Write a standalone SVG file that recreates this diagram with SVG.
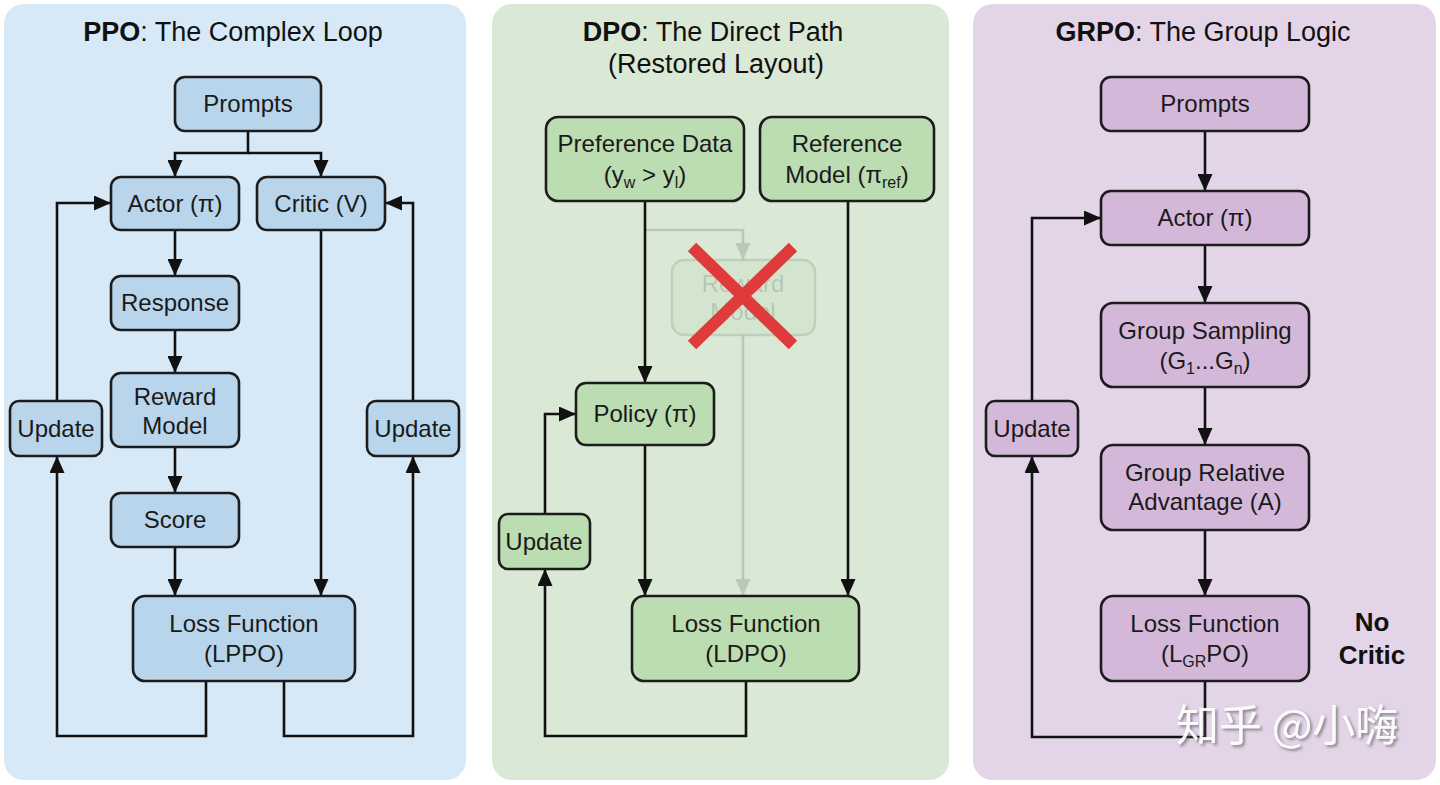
<svg xmlns="http://www.w3.org/2000/svg" width="1440" height="785" viewBox="0 0 1440 785">
<defs>
<style>
.t{font-family:"Liberation Sans",Arial,sans-serif;font-size:24px;fill:#1a1a1a;text-anchor:middle}
.title{font-family:"Liberation Sans",Arial,sans-serif;font-size:27px;fill:#111;text-anchor:middle}
.b{font-weight:bold}
.sub{font-size:16px}
.ppo{fill:#b8d5ec;stroke:#1c1c1c;stroke-width:2.6}
.dpo{fill:#bcdcb1;stroke:#1c1c1c;stroke-width:2.6}
.grpo{fill:#d4b8da;stroke:#1c1c1c;stroke-width:2.6}
.ln{fill:none;stroke:#111;stroke-width:2.6;marker-end:url(#ah)}
.fd{fill:none;stroke:#b9c9b5;stroke-width:2.6;marker-end:url(#ahf)}
.wm{font-family:"Noto Sans CJK SC","Liberation Sans",sans-serif;font-size:43px;fill:#ffffff;fill-opacity:0.92}
</style>
<marker id="ah" markerUnits="userSpaceOnUse" markerWidth="17" markerHeight="15" refX="17" refY="7.5" orient="auto">
<path d="M0,0 L17,7.5 L0,15 z" fill="#111"/>
</marker>
<marker id="ahf" markerUnits="userSpaceOnUse" markerWidth="17" markerHeight="15" refX="17" refY="7.5" orient="auto">
<path d="M0,0 L17,7.5 L0,15 z" fill="#b9c9b5"/>
</marker>
<filter id="sh" x="-10%" y="-20%" width="130%" height="150%">
<feDropShadow dx="2" dy="2" stdDeviation="1.5" flood-color="#555" flood-opacity="0.7"/>
</filter>
</defs>

<g id="panels">
<rect x="4" y="4" width="462" height="776" rx="20" fill="#d7e9f7"/>
<rect x="492" y="4" width="457" height="776" rx="20" fill="#d9e9d5"/>
<rect x="973" y="4" width="463" height="776" rx="20" fill="#e3d4e8"/>
</g>

<g id="titles">
<text class="title" x="233" y="41"><tspan class="b">PPO</tspan>: The Complex Loop</text>
<text class="title" x="713" y="41"><tspan class="b">DPO</tspan>: The Direct Path</text>
<text class="title" x="716" y="73">(Restored Layout)</text>
<text class="title" x="1203" y="41"><tspan class="b">GRPO</tspan>: The Group Logic</text>
</g>

<g id="connectors">
<!-- PPO -->
<path class="ln" d="M248,131 V153 H175 V177"/>
<path class="ln" d="M248,153 H321 V177"/>
<path class="ln" d="M175,230 V276"/>
<path class="ln" d="M175,330 V373"/>
<path class="ln" d="M175,447 V493"/>
<path class="ln" d="M175,547 V596"/>
<path class="ln" d="M321,230 V596"/>
<path class="ln" d="M206,681 V736 H57 V456"/>
<path class="ln" d="M57,401 V203 H111"/>
<path class="ln" d="M284,681 V736 H413 V456"/>
<path class="ln" d="M413,401 V203 H385"/>
<!-- DPO -->
<path class="fd" d="M645,230 H743 V260"/>
<path class="fd" d="M743,335 V596"/>
<path class="ln" d="M645,201 V383"/>
<path class="ln" d="M645,445 V596"/>
<path class="ln" d="M848,201 V596"/>
<path class="ln" d="M746,681 V736 H545 V569"/>
<path class="ln" d="M545,514 V414 H576"/>
<!-- GRPO -->
<path class="ln" d="M1205,131 V191"/>
<path class="ln" d="M1205,245 V303"/>
<path class="ln" d="M1205,387 V445"/>
<path class="ln" d="M1205,530 V596"/>
<path class="ln" d="M1205,681 V737 H1032 V456"/>
<path class="ln" d="M1032,401 V218 H1101"/>
</g>

<!-- PPO nodes -->
<g id="ppo-prompts"><rect class="ppo" x="175" y="77" width="146" height="54" rx="10"/><text class="t" x="248" y="112">Prompts</text></g>
<g id="ppo-actor"><rect class="ppo" x="111" y="177" width="128" height="53" rx="10"/><text class="t" x="175" y="212">Actor (π)</text></g>
<g id="ppo-critic"><rect class="ppo" x="257" y="177" width="128" height="53" rx="10"/><text class="t" x="321" y="212">Critic (V)</text></g>
<g id="ppo-response"><rect class="ppo" x="111" y="276" width="128" height="54" rx="10"/><text class="t" x="175" y="311">Response</text></g>
<g id="ppo-reward"><rect class="ppo" x="111" y="373" width="128" height="74" rx="10"/><text class="t" x="175" y="405">Reward</text><text class="t" x="175" y="434">Model</text></g>
<g id="ppo-score"><rect class="ppo" x="111" y="493" width="128" height="54" rx="10"/><text class="t" x="175" y="528">Score</text></g>
<g id="ppo-loss"><rect class="ppo" x="133" y="596" width="222" height="85" rx="12"/><text class="t" x="244" y="632">Loss Function</text><text class="t" x="244" y="662">(LPPO)</text></g>
<g id="ppo-update-left"><rect class="ppo" x="10" y="401" width="92" height="55" rx="9"/><text class="t" x="56" y="437">Update</text></g>
<g id="ppo-update-right"><rect class="ppo" x="367" y="401" width="92" height="55" rx="9"/><text class="t" x="413" y="437">Update</text></g>

<!-- DPO nodes -->
<g id="dpo-pref"><rect class="dpo" x="546" y="117" width="198" height="84" rx="12"/><text class="t" x="645" y="152">Preference Data</text><text class="t" x="645" y="183">(y<tspan class="sub" dy="5">w</tspan><tspan dy="-5"> &gt; y</tspan><tspan class="sub" dy="5">l</tspan><tspan dy="-5">)</tspan></text></g>
<g id="dpo-ref"><rect class="dpo" x="760" y="117" width="174" height="84" rx="12"/><text class="t" x="847" y="152">Reference</text><text class="t" x="847" y="183">Model (π<tspan class="sub" dy="5">ref</tspan><tspan dy="-5">)</tspan></text></g>
<g id="dpo-reward-removed" opacity="0.55"><rect x="672" y="260" width="143" height="75" rx="12" fill="#cfe0cb" stroke="#a9bba6" stroke-width="2.5"/><text class="t" x="743" y="292" style="fill:#9aab98">Reward</text><text class="t" x="743" y="320" style="fill:#9aab98">Model</text></g>
<g id="dpo-cross"><path d="M692,247 L793,345 M793,247 L692,345" stroke="#e03b3b" stroke-width="12" fill="none"/></g>
<g id="dpo-policy"><rect class="dpo" x="576" y="383" width="138" height="62" rx="10"/><text class="t" x="645" y="422">Policy (π)</text></g>
<g id="dpo-update"><rect class="dpo" x="499" y="514" width="91" height="55" rx="9"/><text class="t" x="544" y="550">Update</text></g>
<g id="dpo-loss"><rect class="dpo" x="632" y="596" width="227" height="85" rx="12"/><text class="t" x="746" y="632">Loss Function</text><text class="t" x="746" y="662">(LDPO)</text></g>

<!-- GRPO nodes -->
<g id="grpo-prompts"><rect class="grpo" x="1101" y="77" width="208" height="54" rx="10"/><text class="t" x="1205" y="112">Prompts</text></g>
<g id="grpo-actor"><rect class="grpo" x="1101" y="191" width="208" height="54" rx="10"/><text class="t" x="1205" y="226">Actor (π)</text></g>
<g id="grpo-sampling"><rect class="grpo" x="1101" y="303" width="208" height="84" rx="12"/><text class="t" x="1205" y="339">Group Sampling</text><text class="t" x="1205" y="369">(G<tspan class="sub" dy="5">1</tspan><tspan dy="-5">...G</tspan><tspan class="sub" dy="5">n</tspan><tspan dy="-5">)</tspan></text></g>
<g id="grpo-advantage"><rect class="grpo" x="1101" y="445" width="208" height="85" rx="12"/><text class="t" x="1205" y="481">Group Relative</text><text class="t" x="1205" y="510">Advantage (A)</text></g>
<g id="grpo-loss"><rect class="grpo" x="1101" y="596" width="208" height="85" rx="12"/><text class="t" x="1205" y="632">Loss Function</text><text class="t" x="1205" y="662">(L<tspan class="sub" dy="5">GR</tspan><tspan dy="-5">PO)</tspan></text></g>
<g id="grpo-update"><rect class="grpo" x="986" y="401" width="92" height="55" rx="9"/><text class="t" x="1032" y="437">Update</text></g>
<g id="grpo-note"><text class="t b" x="1372" y="631" style="font-size:26px;fill:#111">No</text><text class="t b" x="1372" y="664" style="font-size:26px;fill:#111">Critic</text></g>

<g id="watermark"><text class="wm" x="1176" y="741" filter="url(#sh)">知乎 @小嗨</text></g>
</svg>
